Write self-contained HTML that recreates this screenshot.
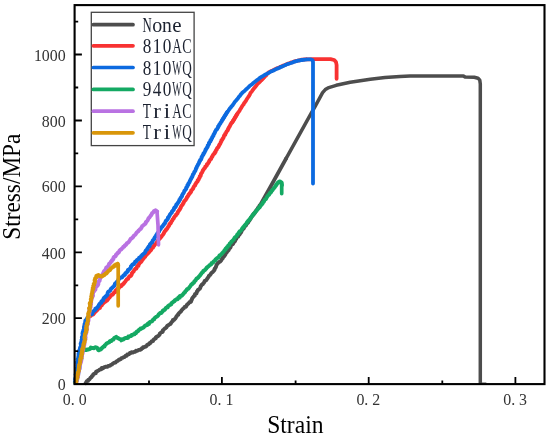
<!DOCTYPE html>
<html><head><meta charset="utf-8"><title>Stress-Strain</title>
<style>
html,body{margin:0;padding:0;background:#fff}
#fig{position:relative;width:550px;height:438px;overflow:hidden;background:#fff}
.lg{position:absolute;left:142.2px;height:22px;line-height:22px;font-family:"Liberation Serif",serif;font-size:20px;color:#1c2230;white-space:nowrap}
.c{display:inline-block;width:10px;text-align:center;}
.w{display:inline-block;width:10px;text-align:center;transform-origin:50% 50%;}
.w{display:inline-flex;justify-content:center}
</style></head><body>
<div id="fig">
<svg width="550" height="438" viewBox="0 0 550 438" style="position:absolute;left:0;top:0">
<rect width="550" height="438" fill="#fff"/>
<g fill="none" stroke-linejoin="round" stroke-linecap="round">
<path stroke="#4D4D4D" stroke-width="1.2" d="M481.0,383.0 L486.0,383.0"/>
<path stroke="#4D4D4D" stroke-width="3.9" d="M85.6,383.2 L86.3,382.1 L86.9,381.2 L88.0,380.9 L88.3,379.8 L89.4,379.4 L90.0,378.6 L90.5,377.7 L91.5,377.3 L91.8,376.2 L92.7,375.7 L93.1,374.7 L93.8,374.0 L94.8,373.5 L95.8,373.1 L96.0,371.9 L96.8,371.3 L97.9,370.9 L98.8,370.4 L99.4,369.8 L100.2,369.2 L101.4,369.3 L101.8,368.0 L103.1,368.3 L103.7,367.5 L104.6,367.1 L105.5,366.8 L106.4,366.7 L107.5,366.9 L108.2,366.0 L109.3,365.9 L110.2,365.5 L111.0,364.8 L112.0,364.5 L112.7,363.6 L113.6,363.1 L114.4,362.7 L115.5,362.6 L116.1,361.8 L116.8,361.2 L117.8,360.9 L118.5,360.2 L119.2,359.5 L120.2,359.5 L121.0,358.9 L121.5,358.1 L122.5,357.9 L123.2,357.4 L124.2,357.2 L124.9,356.6 L125.6,355.7 L126.8,355.8 L127.2,354.5 L128.2,354.3 L129.3,354.0 L129.8,353.0 L130.9,353.0 L131.5,352.2 L132.6,352.5 L133.5,352.3 L134.3,351.7 L135.3,351.7 L135.9,350.8 L136.9,350.9 L137.8,350.5 L138.6,350.1 L139.4,349.7 L140.4,349.7 L141.3,349.3 L141.8,348.4 L142.7,348.1 L143.1,347.1 L144.3,347.2 L145.0,346.7 L146.0,346.6 L146.6,345.9 L147.1,345.0 L147.9,344.6 L148.9,344.4 L149.3,343.3 L150.3,343.3 L150.7,342.4 L151.3,341.8 L151.9,341.1 L153.1,341.0 L153.3,339.9 L154.0,339.3 L154.7,338.8 L155.7,338.5 L155.8,337.3 L156.7,336.9 L157.4,336.4 L158.3,336.0 L158.9,335.3 L159.6,334.7 L159.8,333.6 L160.5,333.1 L161.1,332.4 L162.1,332.2 L162.8,331.6 L162.9,330.3 L163.6,329.7 L164.2,329.1 L164.9,328.5 L165.7,328.0 L166.4,327.5 L166.8,326.6 L167.3,325.8 L168.2,325.4 L168.8,324.8 L169.6,324.3 L170.5,323.9 L171.0,323.1 L171.4,322.3 L172.1,321.6 L172.8,321.0 L172.9,319.9 L174.2,319.8 L174.7,319.0 L175.4,318.4 L175.9,317.7 L176.2,316.7 L176.9,316.1 L177.3,315.2 L178.3,314.9 L178.4,313.8 L179.1,313.1 L179.8,312.5 L180.4,311.8 L181.1,311.3 L181.5,310.4 L182.1,309.7 L182.8,309.1 L183.4,308.4 L184.2,307.9 L184.6,307.0 L185.9,306.9 L186.4,306.0 L186.7,305.0 L187.4,304.4 L188.2,303.8 L188.9,303.1 L189.4,302.2 L190.6,302.1 L191.2,301.3 L191.3,300.2 L191.9,299.5 L192.1,298.5 L192.6,297.7 L193.3,297.1 L193.8,296.2 L194.8,295.8 L194.8,294.6 L195.2,293.8 L196.5,293.5 L196.6,292.5 L196.9,291.5 L197.7,291.0 L197.8,289.9 L198.7,289.4 L199.6,288.9 L200.1,288.1 L200.5,287.2 L200.7,286.2 L201.4,285.5 L201.8,284.6 L202.8,284.2 L203.3,283.3 L204.0,282.7 L204.3,281.7 L204.8,280.9 L205.8,280.5 L206.5,279.8 L207.0,279.0 L207.6,278.2 L208.1,277.4 L208.7,276.6 L209.0,275.6 L209.9,275.1 L210.6,274.3 L211.1,273.3 L211.8,272.6 L212.6,272.1 L213.3,271.3 L214.0,270.6 L214.6,269.8 L214.6,268.7 L215.4,268.0 L215.8,267.1 L216.2,266.2 L216.4,265.2 L216.9,264.4 L217.6,263.7 L218.2,262.9 L218.8,262.2 L219.7,261.7 L220.6,261.2 L221.2,260.4 L221.6,259.5 L222.2,258.8 L222.8,258.2 L222.9,257.1 L223.8,256.6 L224.5,256.0 L224.9,255.2 L225.4,254.4 L225.8,253.5 L226.1,252.7 L227.0,252.2 L227.2,251.2 L228.1,250.7 L228.7,250.1 L228.9,249.1 L229.4,248.3 L230.3,247.8 L230.6,247.0 L230.8,246.0 L231.3,245.2 L231.9,244.5 L232.9,244.1 L233.3,243.3 L233.4,242.3 L234.4,241.8 L235.0,241.2 L235.3,240.3 L235.7,239.4 L236.3,238.8 L236.6,237.8 L237.0,237.0 L238.1,236.7 L238.5,235.8 L238.9,235.0 L239.7,234.4 L240.0,233.5 L240.7,232.9 L241.3,232.1 L241.4,231.1 L242.0,230.4 L242.6,229.6 L243.1,228.9 L243.8,228.3 L244.1,227.4 L244.8,226.7 L245.1,225.8 L246.1,225.4 L246.3,224.4 L246.9,223.7 L247.5,223.0 L248.2,222.4 L248.5,221.4 L249.3,220.8 L249.6,219.9 L250.2,219.2 L250.7,218.4 L251.0,217.5 L251.7,216.9 L252.1,216.0 L252.6,215.2 L253.5,214.7 L253.7,213.7 L254.4,213.1 L255.1,212.4 L255.6,211.6 L256.0,210.8 L256.6,210.1 L257.2,209.3 L257.8,208.6 L258.0,207.7 L258.8,207.1 L259.2,206.2 L259.7,205.4 L260.5,204.8 L260.9,204.0 L271.4,185.1 L285.9,158.9"/>
<path stroke="#4D4D4D" stroke-width="3.5" d="M285.9,158.9 L310.7,114.2 L314.6,107.4 L322.6,92.6 L325.3,89.6 L328.0,87.9 L336.2,85.3 L350.2,82.2 L370.3,79.2 L385.0,77.6 L400.0,76.4 L410.0,76.1 L463.5,76.1 L465.0,76.9 L474.3,77.3 L478.0,78.2 L479.8,80.2 L480.3,84.0 L480.3,383.3"/>
<path stroke="#F83232" stroke-width="4.0" d="M75.8,383.0 L76.0,382.1 L76.3,381.2 L76.5,380.3 L76.2,379.3 L76.4,378.4 L76.4,377.5 L76.5,376.6 L76.8,375.7 L76.7,374.8 L76.9,373.9 L76.9,373.0 L77.5,372.1 L77.4,371.2 L77.6,370.3 L77.8,369.4 L77.2,368.4 L77.6,367.5 L78.1,366.6 L78.1,365.7 L77.5,364.7 L77.6,363.8 L78.0,362.9 L77.8,361.9 L78.1,361.0 L78.1,360.1 L78.9,359.3 L79.2,358.4 L79.5,357.5 L78.9,356.4 L79.7,355.6 L79.8,354.7 L79.4,353.7 L80.4,352.9 L80.6,352.0 L80.1,350.9 L81.0,350.2 L80.6,349.1 L80.9,348.2 L81.6,347.4 L81.6,346.5 L81.1,345.4 L81.5,344.6 L81.8,343.7 L81.8,342.7 L81.8,341.8 L82.1,340.9 L82.7,340.0 L82.2,339.0 L82.9,338.2 L82.9,337.3 L82.6,336.4 L83.1,335.5 L83.6,334.7 L83.6,333.8 L83.3,332.8 L84.4,332.1 L84.4,331.2 L84.7,330.3 L84.0,329.3 L84.3,328.4 L84.3,327.5 L85.2,326.7 L84.8,325.7 L84.8,324.8 L85.4,324.0 L86.1,323.2 L86.3,322.3 L86.0,321.2 L86.2,320.3 L87.2,319.6 L87.5,318.7 L88.3,318.0 L88.5,316.7 L89.4,316.0 L90.6,316.0 L91.3,315.1 L91.9,314.2 L93.3,314.4 L93.8,313.4 L94.5,312.9 L94.7,311.7 L95.9,311.6 L96.0,310.4 L97.2,310.3 L97.6,309.4 L98.2,308.7 L99.0,308.2 L99.9,307.8 L100.1,306.6 L100.7,305.9 L101.6,305.5 L102.0,304.7 L102.6,303.9 L103.3,303.3 L103.9,302.6 L104.7,302.0 L105.5,301.5 L106.1,300.8 L107.1,300.5 L107.5,299.5 L108.3,299.0 L108.7,298.0 L109.6,297.4 L110.0,296.5 L110.9,295.9 L111.4,295.0 L112.6,294.8 L113.1,294.0 L113.6,293.0 L114.4,292.4 L115.5,291.9 L115.5,290.6 L116.7,290.2 L117.0,289.2 L117.8,288.6 L118.7,288.2 L119.1,287.2 L119.9,286.7 L120.7,286.2 L121.6,285.8 L121.9,284.7 L122.9,284.4 L123.5,283.7 L124.2,283.0 L124.7,282.2 L125.3,281.5 L125.8,280.6 L126.5,279.9 L127.0,279.1 L128.2,278.8 L128.5,277.8 L129.0,277.0 L129.6,276.2 L130.7,275.9 L131.3,275.2 L131.7,274.4 L131.9,273.4 L132.4,272.6 L133.0,271.9 L133.7,271.3 L134.0,270.4 L134.7,269.8 L135.2,268.9 L136.2,268.6 L136.7,267.8 L137.0,266.9 L137.3,266.0 L138.4,265.7 L138.5,264.6 L139.2,263.9 L139.5,263.0 L140.3,262.5 L141.0,261.9 L141.6,261.2 L142.0,260.3 L142.7,259.7 L143.0,258.8 L143.8,258.2 L144.2,257.4 L145.0,256.9 L145.4,256.0 L145.9,255.3 L146.7,254.7 L147.2,254.0 L148.0,253.4 L148.6,252.6 L149.3,252.0 L149.8,251.2 L150.4,250.5 L151.1,249.9 L151.4,248.9 L151.9,248.1 L152.9,247.7 L153.0,246.6 L153.9,246.1 L154.4,245.4 L154.7,244.4 L155.7,244.0 L156.3,243.3 L156.8,242.4 L157.4,241.7 L158.0,241.0 L158.2,239.9 L159.0,239.4 L159.6,238.6 L160.4,238.0 L160.9,237.2 L161.5,236.5 L162.0,235.6 L162.7,235.0 L163.2,234.2 L163.8,233.4 L164.1,232.5 L164.6,231.6 L165.2,230.9 L165.8,230.3 L166.1,229.4 L167.0,228.9 L167.4,228.1 L167.9,227.3 L168.4,226.5 L168.9,225.8 L169.3,225.0 L169.5,224.0 L170.4,223.5 L170.9,222.8 L171.2,221.9 L171.8,221.1 L172.4,220.3 L172.7,219.3 L173.6,218.7 L173.9,217.8 L174.4,216.9 L175.0,216.1 L175.8,215.5 L176.2,214.5 L176.9,213.9 L177.5,213.2 L177.7,212.3 L178.2,211.5 L178.7,210.8 L179.3,210.0 L179.8,209.3 L180.2,208.5 L180.7,207.7 L180.9,206.8 L181.4,206.0 L181.9,205.3 L182.6,204.7 L182.9,203.8 L183.5,203.1 L183.7,202.2 L184.2,201.4 L184.8,200.7 L185.5,200.0 L186.0,199.3 L186.5,198.5 L186.8,197.6 L187.4,196.9 L187.9,196.1 L188.4,195.4 L188.7,194.5 L189.6,193.9 L189.8,193.0 L190.6,192.4 L191.1,191.6 L191.2,190.6 L191.9,190.0 L192.5,189.3 L193.1,188.5 L193.4,187.6 L193.8,186.8 L194.3,186.0 L195.1,185.4 L195.3,184.4 L195.9,183.7 L196.2,182.8 L196.9,182.1 L197.6,181.4 L197.7,180.4 L198.5,179.8 L198.7,178.9 L199.3,178.2 L199.7,177.4 L199.8,176.4 L200.6,175.8 L200.8,174.9 L201.0,174.0 L201.4,173.2 L202.0,172.5 L202.4,171.7 L202.8,170.9 L203.1,170.0 L203.8,169.2 L204.3,168.4 L205.1,167.7 L205.3,166.7 L206.2,166.1 L206.8,165.3 L207.0,164.2 L207.9,163.7 L208.3,162.8 L209.0,162.0 L209.2,161.1 L209.7,160.3 L210.3,159.6 L211.0,159.0 L211.3,158.1 L211.7,157.3 L212.3,156.5 L212.7,155.7 L213.1,154.9 L213.6,154.2 L214.5,153.6 L214.7,152.7 L215.5,152.1 L215.6,151.1 L216.1,150.3 L216.7,149.5 L217.0,148.6 L217.5,147.8 L218.3,147.2 L218.7,146.3 L219.1,145.5 L219.5,144.6 L220.1,143.9 L220.5,143.0 L220.8,142.1 L221.4,141.3 L221.5,140.3 L222.3,139.7 L222.6,138.8 L223.2,138.1 L223.6,137.2 L223.9,136.3 L224.3,135.4 L225.2,134.8 L225.2,133.8 L225.9,133.0 L226.3,132.2 L226.7,131.4 L227.4,130.7 L227.9,129.9 L228.1,128.9 L228.7,128.2 L229.0,127.2 L229.7,126.4 L230.1,125.5 L230.5,124.6 L231.1,123.7 L231.6,122.8 L232.5,122.1 L237.1,114.3"/>
<path stroke="#F83232" stroke-width="3.8" d="M232.3,122.0 L232.8,121.2 L233.2,120.4 L233.8,119.8 L234.3,119.0 L234.7,118.1 L235.1,117.3 L235.6,116.6 L236.0,115.8 L236.6,115.0 L237.0,114.2 L237.5,113.5 L238.1,112.7 L238.6,111.9 L239.2,111.2 L239.7,110.4 L240.1,109.5 L240.6,108.7 L241.2,108.0 L241.6,107.1 L242.1,106.4 L242.6,105.5 L243.1,104.8 L243.8,104.1 L244.1,103.1 L244.8,102.4 L245.3,101.6 L245.9,100.9 L246.3,100.0 L246.8,99.2 L247.3,98.4 L247.9,97.6 L248.4,96.8 L249.0,96.1 L249.4,95.3 L249.9,94.5 L250.2,93.5 L250.7,92.7 L251.4,92.0 L251.9,91.3 L252.4,90.5 L253.0,89.8 L253.4,89.0 L254.0,88.4 L254.7,87.7 L255.2,87.0 L255.8,86.3 L256.4,85.6 L256.9,84.8 L257.5,84.1 L258.1,83.4 L258.8,82.8 L259.4,82.2 L260.1,81.6 L260.7,80.9 L261.4,80.3 L262.0,79.7 L262.6,79.0 L263.3,78.4 L263.8,77.6 L264.6,77.1 L265.1,76.3 L265.8,75.8 L266.4,75.0 L266.9,74.3 L267.5,73.6 L268.1,72.9 L268.8,72.3 L269.7,71.9 L270.6,71.3 L271.5,70.8 L272.5,70.5 L273.4,70.1 L274.3,69.6 L275.1,69.1 L276.0,68.9 L276.8,68.3 L277.7,68.0 L278.6,67.7 L279.5,67.4 L280.3,66.9 L281.2,66.6 L282.0,66.2 L282.9,65.7 L283.7,65.4 L284.7,65.2 L285.5,64.8 L286.4,64.3 L287.3,63.9 L288.2,63.6 L289.2,63.3 L290.1,62.9 L291.0,62.5 L291.9,62.4 L292.8,62.2 L293.7,61.7 L294.6,61.3 L295.5,61.1 L296.4,60.9 L297.3,60.8 L298.2,60.4 L299.2,60.4 L300.1,60.2 L301.0,59.9 L301.9,59.6 L302.8,59.8 L303.7,59.5 L304.7,59.5 L305.6,59.3 L306.5,59.2 L307.4,59.3 L313.0,59.1 L330.6,59.1 L334.2,60.0 L336.0,62.0 L336.6,65.0 L336.6,78.8"/>
<path stroke="#0C6AE0" stroke-width="4.0" d="M75.0,383.0 L74.9,382.1 L75.7,381.2 L75.3,380.3 L75.1,379.3 L75.3,378.4 L75.6,377.5 L75.9,376.6 L76.3,375.8 L75.6,374.7 L76.0,373.9 L75.9,372.9 L76.8,372.1 L76.0,371.1 L76.1,370.2 L76.2,369.3 L76.6,368.4 L77.3,367.5 L77.4,366.6 L77.3,365.7 L77.7,364.8 L77.7,363.9 L77.2,362.9 L77.2,362.0 L78.1,361.2 L78.1,360.2 L77.6,359.2 L78.4,358.4 L78.3,357.4 L78.5,356.5 L78.6,355.5 L78.6,354.6 L78.6,353.6 L79.1,352.8 L79.4,351.9 L80.2,351.1 L79.5,350.0 L80.5,349.3 L80.0,348.2 L80.3,347.3 L80.9,346.5 L81.1,345.6 L80.9,344.6 L80.7,343.6 L81.3,342.7 L81.4,341.8 L82.1,341.0 L81.6,339.9 L81.9,339.1 L82.6,338.3 L81.9,337.2 L82.4,336.4 L83.0,335.6 L83.1,334.7 L82.5,333.7 L82.7,332.8 L82.9,331.9 L83.9,331.2 L83.4,330.2 L84.1,329.4 L84.4,328.5 L84.0,327.5 L84.1,326.6 L84.9,325.9 L84.7,324.9 L84.6,324.0 L85.3,323.2 L85.2,322.2 L85.4,321.3 L85.4,320.4 L86.6,319.6 L87.2,318.7 L87.3,317.7 L88.4,317.1 L88.7,315.5 L89.5,315.1 L90.4,314.6 L91.5,314.4 L92.2,313.8 L92.4,312.6 L92.9,311.8 L93.7,311.2 L94.3,310.5 L95.3,310.0 L95.3,308.8 L96.4,308.5 L97.0,307.7 L97.7,307.0 L98.2,306.3 L98.7,305.5 L99.1,304.6 L99.7,303.8 L100.3,303.2 L101.3,302.7 L101.3,301.5 L102.1,300.9 L103.1,300.6 L103.2,299.5 L103.6,298.6 L104.1,297.8 L105.1,297.3 L105.5,296.3 L106.5,295.9 L107.0,295.1 L107.6,294.4 L107.6,293.2 L108.0,292.3 L108.6,291.5 L109.5,291.1 L110.2,290.5 L110.6,289.6 L111.0,288.8 L111.7,288.2 L112.4,287.6 L113.1,286.9 L113.7,286.3 L114.3,285.6 L114.8,284.8 L115.0,283.7 L116.1,283.5 L116.3,282.4 L117.0,281.9 L117.5,281.1 L118.3,280.6 L118.5,279.5 L119.1,278.9 L120.0,278.2 L120.7,277.5 L121.9,277.5 L122.5,276.7 L123.2,275.9 L123.8,275.2 L124.9,274.9 L125.1,273.8 L125.6,273.0 L126.6,272.6 L127.1,271.8 L127.9,271.3 L127.9,270.0 L128.8,269.5 L129.6,269.0 L130.2,268.3 L130.9,267.6 L130.9,266.4 L131.6,265.9 L132.1,265.1 L132.7,264.4 L133.8,264.2 L134.2,263.2 L135.0,262.7 L135.2,261.7 L136.2,261.4 L136.6,260.5 L137.2,259.8 L138.2,259.4 L138.9,258.9 L139.1,257.8 L140.1,257.4 L140.8,256.8 L141.2,256.0 L142.0,255.4 L142.5,254.6 L143.3,254.1 L144.0,253.5 L144.7,252.9 L145.2,252.2 L145.5,251.2 L145.9,250.4 L146.6,249.8 L147.3,249.2 L147.5,248.2 L148.1,247.5 L148.6,246.7 L149.5,246.3 L149.8,245.4 L150.0,244.4 L150.6,243.7 L151.3,243.1 L151.9,242.4 L152.5,241.7 L152.7,240.7 L153.2,240.0 L154.0,239.4 L154.3,238.4 L154.7,237.6 L155.2,236.8 L156.1,236.2 L156.2,235.2 L156.9,234.5 L157.2,233.6 L157.8,232.8 L158.5,232.1 L159.1,231.4 L159.4,230.4 L159.8,229.5 L160.7,229.0 L161.0,228.0 L161.4,227.1 L162.5,226.7 L162.8,225.8 L163.6,225.1 L163.9,224.2 L164.8,223.6 L165.1,222.7 L165.5,221.8 L165.9,220.9 L166.7,220.3 L167.3,219.5 L167.9,218.8 L168.0,217.7 L168.8,217.1 L169.1,216.2 L169.7,215.4 L170.0,214.5 L170.6,213.8 L171.2,213.1 L171.9,212.4 L172.0,211.4 L172.7,210.8 L173.3,210.1 L173.9,209.4 L174.0,208.4 L174.5,207.6 L175.4,207.1 L175.9,206.3 L176.1,205.4 L176.4,204.5 L177.3,204.0 L177.6,203.0 L178.3,202.4 L178.7,201.6 L179.3,200.9 L179.4,199.9 L180.2,199.3 L180.4,198.3 L180.9,197.5 L181.6,196.8 L182.0,196.0 L182.2,195.0 L182.7,194.2 L183.2,193.5 L183.7,192.7 L184.1,191.8 L184.4,191.0 L185.0,190.2 L185.6,189.5 L186.2,188.7 L186.2,187.7 L186.9,187.0 L187.4,186.2 L187.5,185.2 L188.3,184.6 L188.4,183.6 L189.1,182.8 L189.5,182.0 L189.9,181.2 L190.2,180.2 L190.7,179.4 L191.2,178.6 L191.5,177.8 L192.1,177.0 L192.4,176.1 L192.8,175.2 L193.0,174.3 L193.7,173.6 L194.1,172.7 L194.4,171.8 L195.1,171.1 L195.5,170.2 L195.8,169.3 L196.1,168.4 L196.6,167.6 L196.9,166.7 L197.3,165.9 L197.9,165.1 L198.1,164.2 L198.7,163.5 L199.1,162.7 L199.3,161.7 L200.0,161.1 L200.1,160.1 L200.9,159.5 L201.3,158.7 L201.6,157.8 L201.7,156.9 L202.4,156.2 L202.7,155.3 L203.4,154.6 L203.4,153.6 L204.2,153.0 L204.6,152.2 L205.0,151.3 L205.4,150.5 L205.6,149.6 L206.4,148.9 L206.6,148.0 L207.3,147.3 L207.7,146.5 L207.8,145.5 L208.5,144.8 L209.0,144.0 L209.0,143.0 L209.6,142.2 L210.3,141.5 L210.4,140.6 L211.2,139.9 L211.3,138.9 L212.0,138.3 L212.2,137.3 L212.8,136.5 L213.4,135.8 L213.5,134.8 L214.0,134.0 L214.5,133.3 L214.9,132.4 L215.2,131.5 L215.7,130.7 L216.1,129.9 L217.0,129.3 L217.4,128.4 L218.0,127.6 L218.1,126.6 L218.9,125.9 L219.1,124.9 L219.8,124.2 L220.4,123.4 L220.7,122.5 L221.5,121.8 L221.8,120.8 L222.3,120.0 L227.1,112.3"/>
<path stroke="#0C6AE0" stroke-width="3.8" d="M222.3,120.0 L222.9,119.3 L223.2,118.4 L223.9,117.8 L224.3,116.9 L224.7,116.1 L225.3,115.4 L225.6,114.6 L226.3,113.9 L226.6,113.1 L227.1,112.3 L227.7,111.6 L228.3,110.7 L228.8,109.9 L229.5,109.2 L229.9,108.3 L230.7,107.7 L231.1,106.8 L231.8,106.1 L232.5,105.4 L233.0,104.6 L233.6,103.8 L234.1,103.0 L234.6,102.2 L235.1,101.5 L235.8,100.8 L236.4,100.2 L237.0,99.4 L237.6,98.7 L238.2,98.1 L238.6,97.2 L239.2,96.5 L239.9,95.9 L240.4,95.1 L240.9,94.3 L241.6,93.7 L242.1,92.9 L242.8,92.4 L243.5,91.7 L244.2,91.2 L244.9,90.6 L245.5,89.9 L246.2,89.3 L246.9,88.7 L247.5,88.0 L248.3,87.5 L248.8,86.8 L249.5,86.1 L250.1,85.5 L250.9,85.1 L251.7,84.5 L252.4,84.0 L253.0,83.3 L253.7,82.7 L254.4,82.1 L255.2,81.6 L255.9,81.0 L256.6,80.4 L257.4,79.9 L258.0,79.3 L258.9,78.8 L259.5,78.2 L260.2,77.5 L261.1,77.2 L261.8,76.5 L262.7,76.2 L263.6,75.7 L264.4,75.2 L265.2,74.6 L266.1,74.3 L266.9,73.7 L267.8,73.3 L268.7,73.0 L269.4,72.3 L270.3,71.8 L271.1,71.5 L272.0,71.1 L272.8,70.8 L273.7,70.4 L274.4,69.9 L275.3,69.5 L276.1,69.1 L276.9,68.6 L277.8,68.5 L278.7,68.1 L279.5,67.7 L280.2,67.1 L281.2,66.9 L282.1,66.5 L282.9,66.1 L283.8,65.8 L284.6,65.4 L285.5,64.9 L286.4,64.5 L287.3,64.2 L288.2,63.8 L289.1,63.6 L290.1,63.3 L291.0,63.0 L291.9,62.7 L292.8,62.4 L293.7,61.9 L294.6,61.7 L295.5,61.4 L296.4,61.2 L297.3,60.9 L298.2,60.6 L299.2,60.5 L300.1,60.4 L301.0,60.0 L301.9,60.0 L307.4,59.4 L311.0,59.4 L312.6,60.2 L313.0,62.0 L313.0,183.6"/>
<path stroke="#14A963" stroke-width="4.0" d="M75.5,383.0 L75.7,382.3 L75.9,381.7 L76.1,380.8 L76.8,380.0 L77.2,379.2 L77.2,378.2 L76.9,377.2 L77.7,376.4 L77.3,375.4 L77.4,374.5 L78.3,373.7 L78.2,372.8 L78.4,371.9 L78.6,371.0 L79.1,370.1 L78.8,369.1 L79.3,368.3 L79.4,367.3 L79.7,366.5 L79.5,365.5 L79.9,364.6 L80.0,363.7 L79.9,362.7 L80.0,361.8 L80.6,361.0 L80.2,360.0 L81.3,359.2 L80.7,358.2 L80.7,357.2 L81.0,356.4 L82.0,355.6 L81.6,354.6 L81.6,353.6 L81.7,352.7 L81.9,351.8 L82.7,351.0 L82.8,350.1 L83.6,350.3 L84.6,350.2 L85.5,349.5 L86.4,350.0 L87.3,349.4 L88.4,349.5 L89.3,349.1 L90.2,348.8 L90.8,347.6 L92.0,348.1 L93.0,348.1 L94.1,348.2 L95.2,347.3 L96.3,347.4 L97.2,348.0 L98.0,348.5 L98.1,349.8 L98.8,350.3 L99.9,349.7 L100.7,349.4 L101.4,348.8 L102.0,348.0 L102.7,347.3 L103.2,346.8 L104.4,346.6 L104.6,345.5 L105.3,344.9 L106.0,344.3 L106.5,343.5 L107.4,343.1 L108.2,342.6 L109.2,342.4 L109.7,341.5 L110.4,341.0 L111.6,340.9 L112.1,339.9 L113.2,339.6 L113.8,338.9 L114.3,337.8 L115.3,337.5 L116.2,336.9 L116.9,337.7 L118.0,337.9 L118.7,338.7 L119.7,339.0 L120.8,339.2 L121.3,340.3 L122.3,339.3 L123.4,339.6 L124.1,338.7 L124.9,338.2 L125.9,338.0 L127.0,338.1 L127.9,337.9 L128.3,336.6 L129.3,336.6 L130.1,336.1 L131.1,336.0 L131.7,335.0 L132.6,334.9 L133.4,334.3 L134.5,334.3 L134.9,333.2 L136.0,333.2 L136.3,332.1 L137.0,331.4 L138.1,331.2 L138.6,330.5 L139.1,329.6 L140.2,329.4 L140.6,328.4 L141.8,328.5 L142.6,327.9 L143.4,327.5 L144.1,326.8 L144.7,326.0 L145.5,325.6 L146.3,325.0 L147.4,324.9 L147.7,323.7 L149.0,323.9 L149.2,322.6 L150.1,322.2 L150.9,321.6 L152.0,321.4 L152.5,320.4 L153.1,319.6 L154.2,319.3 L154.5,318.1 L155.3,317.6 L156.1,316.9 L157.0,316.5 L157.7,315.9 L158.3,315.2 L158.8,314.3 L159.5,313.7 L160.1,313.0 L161.3,312.9 L161.8,312.1 L162.6,311.6 L162.9,310.5 L163.8,310.1 L164.7,309.8 L165.3,309.0 L165.7,308.1 L166.6,307.7 L167.6,307.4 L167.9,306.3 L168.6,305.7 L169.4,305.2 L170.3,304.9 L171.1,304.4 L171.4,303.3 L172.1,302.7 L172.9,302.2 L173.6,301.6 L174.4,301.2 L174.9,300.3 L175.7,299.9 L176.3,299.2 L177.6,299.2 L178.1,298.4 L178.4,297.4 L179.7,297.5 L179.8,296.2 L180.7,295.8 L181.8,295.7 L182.4,295.0 L183.0,294.4 L183.6,293.5 L184.1,292.8 L185.0,292.4 L185.2,291.4 L185.9,290.8 L186.6,290.2 L186.9,289.3 L187.8,288.9 L188.7,288.4 L189.2,287.7 L189.6,286.9 L190.3,286.3 L190.8,285.5 L191.2,284.6 L192.1,284.3 L192.5,283.5 L193.4,283.0 L194.1,282.4 L194.3,281.4 L195.0,280.8 L195.7,280.3 L196.1,279.4 L196.6,278.6 L197.5,278.2 L198.2,277.6 L198.7,276.9 L199.3,276.2 L199.9,275.6 L200.4,274.8 L201.0,274.1 L201.6,273.3 L202.1,272.5 L203.0,272.0 L203.3,271.0 L204.1,270.5 L205.0,270.0 L205.6,269.3 L206.2,268.6 L206.6,267.7 L207.4,267.2 L208.1,266.6 L208.9,266.0 L209.5,265.3 L210.4,264.8 L211.2,264.3 L211.5,263.2 L212.4,262.9 L213.2,262.3 L213.6,261.5 L214.4,260.9 L215.4,260.5 L215.5,259.3 L216.5,258.9 L216.9,258.1 L218.0,257.8 L218.7,257.2 L219.2,256.3 L219.6,255.4 L220.6,255.0 L221.2,254.3 L221.9,253.7 L222.4,252.9 L223.1,252.3 L223.8,251.6 L224.2,250.8 L224.7,250.0 L225.6,249.6 L225.7,248.5 L226.6,248.0 L227.0,247.2 L227.8,246.7 L228.1,245.7 L229.2,245.4 L229.4,244.4 L229.8,243.5 L230.5,242.9 L231.2,242.3 L231.5,241.4 L232.4,240.9 L233.0,240.2 L233.7,239.6 L234.1,238.7 L234.6,237.9 L235.1,237.2 L236.0,236.7 L236.7,236.1 L237.0,235.2 L237.4,234.3 L238.3,233.9 L238.7,233.0 L239.1,232.2 L239.7,231.4 L240.6,231.0 L241.2,230.3 L241.7,229.5 L242.1,228.7 L242.8,228.0 L243.2,227.1 L244.1,226.7 L244.4,225.7 L245.1,225.1 L245.7,224.5 L246.3,223.8 L246.7,222.9 L247.2,222.1 L247.9,221.5 L248.3,220.6 L249.2,220.2 L249.5,219.2 L250.4,218.7 L250.7,217.8 L251.3,217.1 L251.8,216.3 L252.5,215.7 L252.9,214.8 L253.4,214.0 L254.4,213.6 L254.7,212.7 L255.3,212.0 L255.9,211.3 L256.6,210.6 L257.1,209.9 L257.8,209.2 L258.4,208.5 L258.8,207.7 L259.7,207.2 L260.2,206.4 L260.4,205.4 L261.4,204.9 L262.0,204.2 L262.5,203.5 L262.7,202.5 L263.6,202.0 L264.1,201.2 L264.4,200.3 L264.9,199.5 L265.9,199.1 L266.3,198.3 L266.7,197.4 L267.2,196.6 L267.7,195.9 L268.3,195.2 L269.1,194.6 L269.5,193.8 L269.9,193.0 L270.8,192.5 L271.3,191.7 L271.6,190.7 L272.5,190.2 L272.9,189.3 L273.6,188.6 L274.1,187.8 L274.8,187.1 L275.3,186.3 L275.9,185.6 L276.2,184.6 L277.0,184.0 L277.4,183.2 L278.1,182.5 L278.9,181.8 L279.9,181.4 L280.6,181.9 L281.5,182.4 L281.7,183.7 L281.9,185.0"/>
<path stroke="#14A963" stroke-width="3.7" d="M281.4,182.5 L281.7,185.0 L281.7,193.6"/>
<path stroke="#B972E2" stroke-width="4.0" d="M75.9,383.0 L76.4,382.7 L76.1,381.7 L76.7,380.9 L76.6,380.0 L77.1,379.1 L77.3,378.3 L77.5,377.4 L78.0,376.5 L77.3,375.5 L78.3,374.8 L78.1,373.8 L78.4,372.9 L78.7,372.1 L79.0,371.2 L78.8,370.2 L79.0,369.3 L79.7,368.6 L79.0,367.5 L79.7,366.7 L79.9,365.8 L79.5,364.8 L80.2,364.0 L80.5,363.2 L80.9,362.3 L80.5,361.3 L81.3,360.6 L81.0,359.6 L81.2,358.7 L81.8,357.9 L81.1,356.8 L81.9,356.1 L82.0,355.1 L81.9,354.2 L82.6,353.4 L82.3,352.4 L82.6,351.6 L82.8,350.7 L83.2,349.8 L82.8,348.8 L83.2,348.0 L83.4,347.1 L83.7,346.2 L84.2,345.4 L83.8,344.4 L84.5,343.6 L84.3,342.6 L84.5,341.8 L84.5,340.8 L84.9,340.0 L85.5,339.2 L85.3,338.2 L85.6,337.3 L85.3,336.4 L85.4,335.4 L85.6,334.5 L86.0,333.7 L86.2,332.8 L86.5,331.9 L85.9,330.9 L86.7,330.1 L87.0,329.2 L86.8,328.3 L86.5,327.3 L86.9,326.4 L86.7,325.5 L87.1,324.6 L88.0,323.8 L87.8,322.8 L88.0,321.9 L88.3,321.1 L88.5,320.2 L88.4,319.2 L88.5,318.3 L88.7,317.4 L88.9,316.5 L88.9,315.6 L89.1,314.7 L88.8,313.8 L89.4,312.9 L89.3,312.0 L89.8,311.1 L89.3,310.1 L89.5,309.2 L89.5,308.3 L90.4,307.5 L90.7,306.7 L90.5,305.7 L90.4,304.8 L91.0,304.0 L91.1,303.0 L91.1,302.1 L91.0,301.1 L91.3,300.2 L91.6,299.3 L91.7,298.4 L92.0,297.5 L92.5,296.6 L93.0,295.8 L92.3,294.6 L93.0,293.8 L92.7,292.8 L93.0,291.9 L94.2,291.3 L94.5,290.3 L95.4,289.6 L95.5,288.4 L95.7,287.3 L96.5,286.6 L97.1,285.9 L97.8,285.1 L98.3,284.3 L98.2,283.2 L98.6,282.3 L98.8,281.3 L99.6,280.7 L99.7,279.7 L100.1,278.8 L100.4,277.8 L100.8,277.0 L101.8,276.4 L101.8,275.3 L102.9,275.0 L102.7,273.8 L103.8,273.3 L103.6,272.2 L104.0,271.4 L105.0,270.9 L105.1,269.9 L106.0,269.4 L106.0,268.3 L106.4,267.5 L107.4,267.0 L107.9,266.3 L108.5,265.6 L109.0,264.8 L109.1,263.7 L110.0,263.2 L110.6,262.5 L111.0,261.6 L111.9,261.1 L112.0,260.0 L113.0,259.6 L113.4,258.8 L113.5,257.7 L114.1,256.9 L115.1,256.5 L115.8,255.8 L116.0,254.7 L116.7,254.1 L117.6,253.6 L117.9,252.5 L118.9,252.1 L119.3,251.2 L119.7,250.3 L120.6,249.7 L121.4,249.2 L122.0,248.4 L122.8,247.9 L123.2,246.9 L124.3,246.5 L124.7,245.6 L125.6,245.1 L126.2,244.4 L126.7,243.6 L127.3,242.9 L128.2,242.4 L128.9,241.8 L129.4,241.0 L129.9,240.2 L130.4,239.4 L130.9,238.6 L132.0,238.3 L132.5,237.5 L133.2,236.9 L133.6,236.0 L134.3,235.4 L135.1,234.9 L135.7,234.1 L136.2,233.3 L136.7,232.5 L137.4,231.9 L138.2,231.4 L138.6,230.5 L139.4,229.9 L140.0,229.2 L140.8,228.7 L141.4,227.9 L141.7,227.0 L142.2,226.2 L143.0,225.6 L143.7,225.0 L144.4,224.4 L145.2,223.8 L145.8,223.0 L145.9,221.9 L146.8,221.4 L147.4,220.6 L147.9,219.8 L148.3,218.9 L148.7,218.0 L149.6,217.3 L150.1,216.5 L150.6,215.7 L151.3,215.0 L151.6,214.1 L152.1,213.2 L152.9,212.7 L153.6,212.0 L153.9,211.1 L155.7,210.5 L156.1,211.2 L157.1,211.5"/>
<path stroke="#B972E2" stroke-width="3.7" d="M155.6,210.4 L157.0,211.6 L158.0,225.0 L158.5,244.8"/>
<path stroke="#D9960A" stroke-width="4.0" d="M75.5,383.0 L76.1,382.8 L76.4,381.8 L76.3,380.9 L76.2,380.0 L76.5,379.1 L77.1,378.3 L77.4,377.4 L77.2,376.5 L77.0,375.5 L77.9,374.8 L78.0,373.9 L77.7,372.9 L78.2,372.0 L78.7,371.2 L78.9,370.3 L78.7,369.4 L78.8,368.5 L79.1,367.6 L78.9,366.6 L79.1,365.7 L79.2,364.8 L79.9,364.1 L79.8,363.1 L80.1,362.3 L80.2,361.3 L80.4,360.5 L80.2,359.5 L80.3,358.6 L81.5,357.9 L81.0,356.9 L80.9,355.9 L81.6,355.1 L82.0,354.3 L81.5,353.3 L82.1,352.5 L82.0,351.5 L82.4,350.7 L82.1,349.7 L82.3,348.8 L83.4,348.1 L83.5,347.2 L83.2,346.2 L83.5,345.4 L83.4,344.4 L84.1,343.6 L83.9,342.7 L84.6,341.9 L84.6,340.9 L84.8,340.1 L85.1,339.2 L84.5,338.2 L84.5,337.2 L84.8,336.3 L84.9,335.4 L84.9,334.5 L85.1,333.6 L85.7,332.8 L86.2,331.9 L85.9,331.0 L86.6,330.1 L86.7,329.2 L86.0,328.2 L86.6,327.4 L86.6,326.4 L86.4,325.5 L87.4,324.7 L86.9,323.7 L87.3,322.8 L87.6,321.9 L88.0,321.1 L87.9,320.1 L87.7,319.2 L87.9,318.3 L87.8,317.3 L88.7,316.6 L88.9,315.7 L88.3,314.7 L88.2,313.7 L88.6,312.9 L88.8,312.0 L89.5,311.2 L89.6,310.3 L89.7,309.4 L89.0,308.3 L89.9,307.5 L90.0,306.6 L90.0,305.7 L90.5,304.9 L89.7,303.8 L89.9,302.9 L90.7,302.1 L91.1,301.3 L91.0,300.3 L90.8,299.3 L91.3,298.4 L91.7,297.6 L91.2,296.5 L91.6,295.6 L91.7,294.7 L91.8,293.8 L92.3,292.9 L92.2,291.9 L92.4,291.1 L92.5,290.1 L93.2,289.3 L92.7,288.3 L93.6,287.5 L93.3,286.5 L93.3,285.6 L94.3,284.9 L93.8,283.8 L94.7,283.1 L94.8,282.2 L95.0,281.3 L94.6,280.2 L95.1,279.4 L95.1,278.4 L96.1,277.7 L96.3,276.8 L96.4,275.8 L97.4,275.5 L98.5,275.1 L99.2,275.9 L100.2,276.0 L100.9,276.6 L102.0,276.6 L102.4,276.1 L103.1,275.3 L104.2,275.2 L104.9,274.4 L105.5,273.5 L106.6,273.4 L107.1,272.3 L107.8,271.8 L108.4,270.9 L109.1,270.3 L110.2,270.0 L110.5,269.0 L111.1,268.2 L112.0,267.7 L112.6,266.9 L113.7,266.7 L114.1,265.6 L115.4,265.7 L115.8,264.5 L117.0,264.5 L117.7,263.8 L118.1,264.8 L118.2,266.0"/>
<path stroke="#D9960A" stroke-width="3.7" d="M117.6,263.7 L118.2,266.0 L118.2,305.8"/>
</g>
<g stroke="#000" fill="none">
<rect x="74.6" y="5.1" width="469.9" height="379.0" stroke-width="2.1"/>
<path stroke-width="1.8" d="M149.0,384.15 v-3.6 M221.9,384.15 v-7.1 M295.6,384.15 v-3.6 M368.7,384.15 v-7.1 M442.3,384.15 v-3.6 M515.4,384.15 v-7.1 M74.6,351.2 h3.6 M74.6,318.2 h7.3 M74.6,285.3 h3.6 M74.6,252.3 h7.3 M74.6,219.3 h3.6 M74.6,186.4 h7.3 M74.6,153.4 h3.6 M74.6,120.5 h7.3 M74.6,87.5 h3.6 M74.6,54.5 h7.3 M74.6,21.6 h3.6"/>
</g>
<rect x="91.3" y="12.3" width="102.8" height="133.3" fill="#fff" stroke="#444" stroke-width="1.3"/>
<g stroke-width="3.7" stroke-linecap="round">
<path stroke="#4D4D4D" d="M93.4,24.7 H133"/>
<path stroke="#F83232" d="M93.4,45.8 H133"/>
<path stroke="#0C6AE0" d="M93.4,67.5 H133"/>
<path stroke="#14A963" d="M93.4,89.4 H133"/>
<path stroke="#B972E2" d="M93.4,111.2 H133"/>
<path stroke="#D9960A" d="M93.4,132.8 H133"/>
</g>
<g font-family="'Liberation Serif', serif" font-size="17.6" fill="#333">
<text transform="translate(65.7,389.9) scale(0.905,1)" text-anchor="end">0</text>
<text transform="translate(65.7,323.5) scale(0.905,1)" text-anchor="end">200</text>
<text transform="translate(65.7,258.8) scale(0.905,1)" text-anchor="end">400</text>
<text transform="translate(65.7,191.9) scale(0.905,1)" text-anchor="end">600</text>
<text transform="translate(65.7,127.1) scale(0.905,1)" text-anchor="end">800</text>
<text transform="translate(65.7,61.2) scale(0.905,1)" text-anchor="end">1000</text>
<text transform="translate(62.8,405.4) scale(0.905,1)" x="0 8.80 17.60">0.0</text>
<text transform="translate(209.6,405.4) scale(0.905,1)" x="0 8.80 17.60">0.1</text>
<text transform="translate(356.4,405.4) scale(0.905,1)" x="0 8.80 17.60">0.2</text>
<text transform="translate(503.2,405.4) scale(0.905,1)" x="0 8.80 17.60">0.3</text>
</g>
<g font-family="'Liberation Serif', serif" fill="#000">
<text font-size="23.6" transform="translate(267.2,433.2) scale(1,1.05)">Strain</text>
<text font-size="23.3" transform="translate(20.4,239.7) rotate(-90) scale(1,1.07)">Stress/MPa</text>
</g>
</svg>
<div class="lg" aria-label="None" style="top:13.9px"><span class="c"><span class="w" style="transform:scaleX(0.64)">N</span></span><span class="c"><span class="w" style="transform:scaleX(1.0)">o</span></span><span class="c"><span class="w" style="transform:scaleX(0.98)">n</span></span><span class="c"><span class="w" style="transform:scaleX(1.05)">e</span></span></div>
<div class="lg" aria-label="810AC" style="top:35.4px"><span class="c"><span class="w" style="transform:scaleX(0.86)">8</span></span><span class="c"><span class="w" style="transform:scaleX(0.9)">1</span></span><span class="c"><span class="w" style="transform:scaleX(0.86)">0</span></span><span class="c"><span class="w" style="transform:scaleX(0.66)">A</span></span><span class="c"><span class="w" style="transform:scaleX(0.7)">C</span></span></div>
<div class="lg" aria-label="810WQ" style="top:56.8px"><span class="c"><span class="w" style="transform:scaleX(0.86)">8</span></span><span class="c"><span class="w" style="transform:scaleX(0.9)">1</span></span><span class="c"><span class="w" style="transform:scaleX(0.86)">0</span></span><span class="c"><span class="w" style="transform:scaleX(0.5)">W</span></span><span class="c"><span class="w" style="transform:scaleX(0.66)">Q</span></span></div>
<div class="lg" aria-label="940WQ" style="top:78.3px"><span class="c"><span class="w" style="transform:scaleX(0.86)">9</span></span><span class="c"><span class="w" style="transform:scaleX(0.86)">4</span></span><span class="c"><span class="w" style="transform:scaleX(0.86)">0</span></span><span class="c"><span class="w" style="transform:scaleX(0.5)">W</span></span><span class="c"><span class="w" style="transform:scaleX(0.66)">Q</span></span></div>
<div class="lg" aria-label="TriAC" style="top:99.8px"><span class="c"><span class="w" style="transform:scaleX(0.68)">T</span></span><span class="c"><span class="w" style="transform:scaleX(1.15)">r</span></span><span class="c"><span class="w" style="transform:scaleX(1.15)">i</span></span><span class="c"><span class="w" style="transform:scaleX(0.66)">A</span></span><span class="c"><span class="w" style="transform:scaleX(0.7)">C</span></span></div>
<div class="lg" aria-label="TriWQ" style="top:121.2px"><span class="c"><span class="w" style="transform:scaleX(0.68)">T</span></span><span class="c"><span class="w" style="transform:scaleX(1.15)">r</span></span><span class="c"><span class="w" style="transform:scaleX(1.15)">i</span></span><span class="c"><span class="w" style="transform:scaleX(0.5)">W</span></span><span class="c"><span class="w" style="transform:scaleX(0.66)">Q</span></span></div>
</div>
</body></html>
